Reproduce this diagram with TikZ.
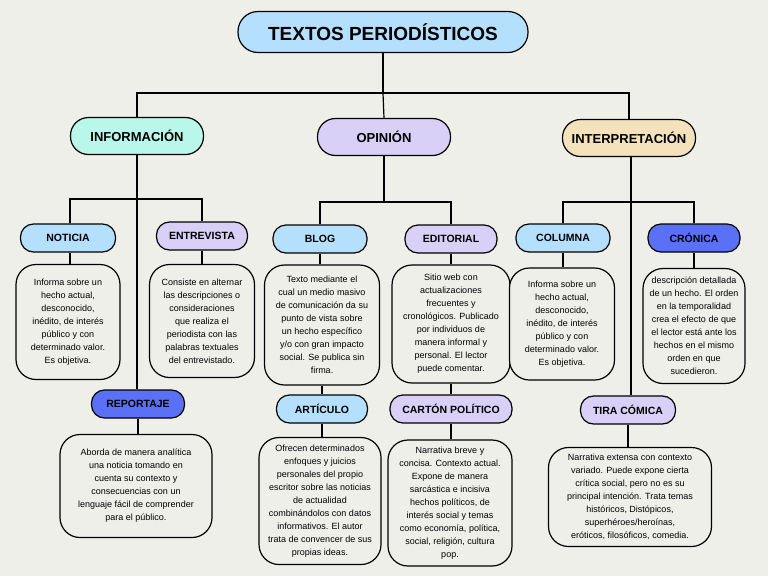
\documentclass[tikz,border=0pt]{standalone}
\usepackage{fontspec}
\setmainfont{Liberation Sans}
\definecolor{bg}{HTML}{EFEFEA}
\definecolor{lblue}{HTML}{B5E0FD}
\definecolor{mint}{HTML}{B8F7EA}
\definecolor{lav}{HTML}{D8D0F7}
\definecolor{sand}{HTML}{F3E2BC}
\definecolor{dblue}{HTML}{5A70F7}
\begin{document}
\begin{tikzpicture}[x=1pt,y=-1pt,line width=1.2pt,
  cat/.style={draw,rounded corners=18pt,minimum height=37pt,minimum width=133pt,font=\fontsize{13}{15}\selectfont\bfseries,inner sep=2pt},
  sub/.style={draw,rounded corners=13pt,minimum height=28pt,font=\fontsize{10.5}{12}\selectfont\bfseries,inner sep=2pt},
  desc/.style={draw,rounded corners=20pt,fill=bg,align=center,font=\fontsize{9}{13}\selectfont,inner sep=2pt}]
\fill[bg] (0,0) rectangle (768,576);
\useasboundingbox (0,0) rectangle (768,576);
\node[draw,rounded corners=20pt,fill=lblue,minimum width=290pt,minimum height=41pt,font=\fontsize{19}{22}\selectfont\bfseries] (title) at (383,32) {TEXTOS PERIODÍSTICOS};
\node[cat,fill=mint] (info) at (137,136) {INFORMACIÓN};
\node[cat,fill=lav] (opin) at (384,137) {OPINIÓN};
\node[cat,fill=sand] (interp) at (629,138) {INTERPRETACIÓN};
\coordinate (j0) at (383,93);
\draw (title.south) -- (j0);
\draw (info.north) |- (j0);
\draw (interp.north) |- (j0);
\draw (opin.north) -- (j0);
% subs
\node[sub,fill=lblue,minimum width=95pt] (noticia) at (68,238) {NOTICIA};
\node[sub,fill=lav,minimum width=91pt] (entrev) at (202,236) {ENTREVISTA};
\node[sub,fill=dblue,minimum width=93pt] (report) at (138,404) {REPORTAJE};
\node[sub,fill=lblue,minimum width=94pt] (blog) at (320,239) {BLOG};
\node[sub,fill=lav,minimum width=92pt] (edit) at (451,239) {EDITORIAL};
\node[sub,fill=lblue,minimum width=91pt] (artic) at (322,409) {ARTÍCULO};
\node[sub,fill=lav,minimum width=122pt] (carton) at (451,409) {CARTÓN POLÍTICO};
\node[sub,fill=lblue,minimum width=94pt] (colum) at (563,238) {COLUMNA};
\node[sub,fill=dblue,minimum width=92pt] (cronica) at (694,238) {CRÓNICA};
\node[sub,fill=lav,minimum width=95pt] (tira) at (628,410) {TIRA CÓMICA};
\coordinate (ji) at (137,199);
\coordinate (jo) at (384,202);
\coordinate (jt) at (631,202);
\draw (info.south) -- (report.north -| info);
\draw (noticia.north -| 70,0) |- (ji);
\draw (entrev.north) |- (ji);
\draw (opin.south) -- (jo);
\draw (blog.north) |- (jo);
\draw (edit.north) |- (jo);
\draw (interp.south -| jt) -- (tira.north -| jt);
\draw (colum.north) |- (jt);
\draw (cronica.north) |- (jt);
% descriptions
\node[desc,minimum width=104pt,minimum height=115pt] (dnot) at (68,322) {Informa sobre un\\hecho actual,\\desconocido,\\inédito, de interés\\público y con\\determinado valor.\\Es objetiva.};
\node[desc,minimum width=105pt,minimum height=113pt] (dent) at (202,321) {Consiste en alternar\\las descripciones o\\consideraciones\\que realiza el\\periodista con las\\palabras textuales\\del entrevistado.};
\node[desc,minimum width=152pt,minimum height=103pt] (drep) at (136,486) {Aborda de manera analítica\\una noticia tomando en\\cuenta su contexto y\\consecuencias con un\\lenguaje fácil de comprender\\para el público.};
\node[desc,minimum width=115pt,minimum height=120pt] (dblog) at (322,325) {Texto mediante el\\cual un medio masivo\\de comunicación da su\\punto de vista sobre\\un hecho específico\\y/o con gran impacto\\social. Se publica sin\\firma.};
\node[desc,minimum width=118pt,minimum height=118pt] (dedit) at (451,324) {Sitio web con\\actualizaciones\\frecuentes y\\cronológicos. Publicado\\por individuos de\\manera informal y\\personal. El lector\\puede comentar.};
\node[desc,minimum width=122pt,minimum height=127pt] (dart) at (320,501) {Ofrecen determinados\\enfoques y juicios\\personales del propio\\escritor sobre las noticias\\de actualidad\\combinándolos con datos\\informativos. El autor\\trata de convencer de sus\\propias ideas.};
\node[desc,minimum width=124pt,minimum height=126pt] (dcar) at (450,503) {Narrativa breve y\\concisa. Contexto actual.\\Expone de manera\\sarcástica e incisiva\\hechos políticos, de\\interés social y temas\\como economía, política,\\social, religión, cultura\\pop.};
\node[desc,minimum width=105pt,minimum height=112pt] (dcol) at (562,324) {Informa sobre un\\hecho actual,\\desconocido,\\inédito, de interés\\público y con\\determinado valor.\\Es objetiva.};
\node[desc,minimum width=102pt,minimum height=115pt] (dcro) at (694,326) {descripción detallada\\de un hecho. El orden\\en la temporalidad\\crea el efecto de que\\el lector está ante los\\hechos en el mismo\\orden en que\\sucedieron.};
\node[desc,minimum width=163pt,minimum height=99pt] (dtira) at (630,497) {Narrativa extensa con contexto\\variado. Puede expone cierta\\crítica social, pero no es su\\principal intención. Trata temas\\históricos, Distópicos,\\superhéroes/heroínas,\\eróticos, filosóficos, comedia.};
\draw (noticia.south -| 70,0) -- (dnot.north -| 70,0);
\draw (entrev.south) -- (dent.north -| entrev);
\draw (report.south) -- (drep.north -| report);
\draw (blog.south) -- (dblog.north -| blog);
\draw (dblog.south -| artic) -- (artic.north);
\draw (artic.south) -- (dart.north -| artic);
\draw (edit.south) -- (dedit.north -| edit);
\draw (dedit.south -| carton) -- (carton.north);
\draw (carton.south) -- (dcar.north -| carton);
\draw (colum.south) -- (dcol.north -| colum);
\draw (cronica.south) -- (dcro.north -| cronica);
\draw (tira.south) -- (dtira.north -| tira);
\end{tikzpicture}
\end{document}
